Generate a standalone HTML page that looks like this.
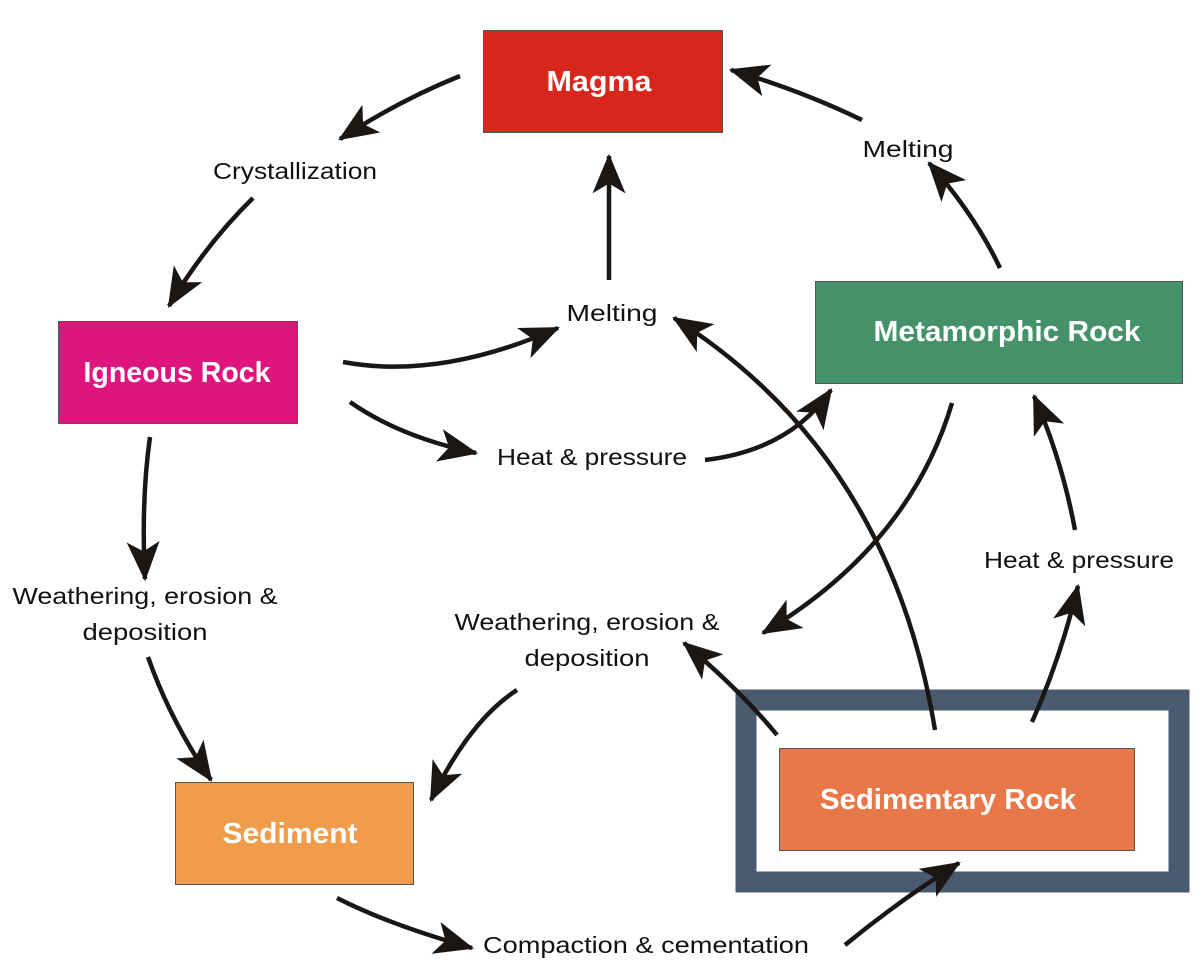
<!DOCTYPE html>
<html><head><meta charset="utf-8"><style>
html,body{margin:0;padding:0;background:#fff}
svg{display:block}
text{font-family:"Liberation Sans",sans-serif}
.l{font-size:23px;fill:#111;text-anchor:middle}
.b{font-size:29px;font-weight:bold;fill:#fff;text-anchor:middle}
path.a{fill:none;stroke:#1a1614;stroke-width:4.5;marker-end:url(#ah)}
</style></head><body>
<svg width="1200" height="978" viewBox="0 0 1200 978">
<defs>
<marker id="ah" markerUnits="userSpaceOnUse" markerWidth="44" markerHeight="44" viewBox="-36 -16 40 32" refX="0" refY="0" orient="auto">
<path d="M2,0 L-34,-15 L-25,0 L-34,15 Z" fill="#1a1614"/>
</marker>
</defs>
<rect x="483.5" y="30.5" width="239" height="102" fill="#d9261c" stroke="#555" stroke-width="1"/>
<text class="b" x="599" y="91" textLength="105" lengthAdjust="spacingAndGlyphs">Magma</text>
<rect x="58.5" y="321.5" width="239" height="102" fill="#e0147f" stroke="#555" stroke-width="1"/>
<text class="b" x="177" y="382" textLength="187" lengthAdjust="spacingAndGlyphs">Igneous Rock</text>
<rect x="815.5" y="281.5" width="367" height="102" fill="#45916a" stroke="#555" stroke-width="1"/>
<text class="b" x="1007" y="341" textLength="267" lengthAdjust="spacingAndGlyphs">Metamorphic Rock</text>
<rect x="175.5" y="782.5" width="238" height="102" fill="#f09c4a" stroke="#555" stroke-width="1"/>
<text class="b" x="290" y="843" textLength="135" lengthAdjust="spacingAndGlyphs">Sediment</text>
<rect x="746" y="700" width="433" height="182" fill="none" stroke="#4a5b70" stroke-width="21"/>
<rect x="779.5" y="748.5" width="355" height="102" fill="#e8784a" stroke="#555" stroke-width="1"/>
<text class="b" x="948" y="809" textLength="256" lengthAdjust="spacingAndGlyphs">Sedimentary Rock</text>
<text class="l" x="295" y="179" textLength="164" lengthAdjust="spacingAndGlyphs">Crystallization</text>
<text class="l" x="612" y="321" textLength="91" lengthAdjust="spacingAndGlyphs">Melting</text>
<text class="l" x="592" y="465" textLength="190" lengthAdjust="spacingAndGlyphs">Heat &amp; pressure</text>
<text class="l" x="908" y="157" textLength="91" lengthAdjust="spacingAndGlyphs">Melting</text>
<text class="l" x="1079" y="568" textLength="190" lengthAdjust="spacingAndGlyphs">Heat &amp; pressure</text>
<text class="l" x="145" y="604" textLength="265" lengthAdjust="spacingAndGlyphs">Weathering, erosion &amp;</text>
<text class="l" x="145" y="640" textLength="125" lengthAdjust="spacingAndGlyphs">deposition</text>
<text class="l" x="587" y="630" textLength="265" lengthAdjust="spacingAndGlyphs">Weathering, erosion &amp;</text>
<text class="l" x="587" y="666" textLength="125" lengthAdjust="spacingAndGlyphs">deposition</text>
<text class="l" x="646" y="953" textLength="326" lengthAdjust="spacingAndGlyphs">Compaction &amp; cementation</text>
<path class="a" d="M460,76 Q400,100 340,139"/>
<path class="a" d="M253,198 Q205,245 169,306"/>
<path class="a" d="M343,362 Q440,380 558,328"/>
<path class="a" d="M609,280 L609,156"/>
<path class="a" d="M350,402 Q400,437 476,453"/>
<path class="a" d="M705,460 Q790,450 831,390"/>
<path class="a" d="M1000,268 Q975,215 929,163"/>
<path class="a" d="M862,120 Q800,90 731,70"/>
<path class="a" d="M150,437 Q141,500 145,579"/>
<path class="a" d="M148,657 Q170,720 211,780"/>
<path class="a" d="M952,403 Q910,545 763,633"/>
<path class="a" d="M517,690 Q470,720 431,800"/>
<path class="a" d="M777,735 Q740,690 684,643"/>
<path class="a" d="M935,730 Q890,455 674,318"/>
<path class="a" d="M1032,722 Q1060,660 1078,586"/>
<path class="a" d="M1075,530 Q1062,460 1034,396"/>
<path class="a" d="M337,898 Q390,925 472,948"/>
<path class="a" d="M845,945 Q900,900 959,863"/>
</svg>
</body></html>
